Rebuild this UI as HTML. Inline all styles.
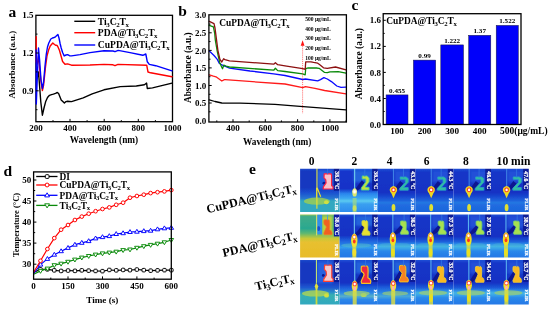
<!DOCTYPE html><html><head><meta charset="utf-8"><style>html,body{margin:0;padding:0;background:#fff;width:550px;height:309px;overflow:hidden}svg{display:block;will-change:transform}text{font-family:"Liberation Serif",serif;font-weight:bold}</style></head><body>
<svg width="550" height="309" viewBox="0 0 550 309">
<defs><filter id="soft" x="-5%" y="-5%" width="110%" height="110%"><feGaussianBlur stdDeviation="0.75"/></filter><filter id="soft2" x="-20%" y="-20%" width="140%" height="140%"><feGaussianBlur stdDeviation="0.9"/></filter></defs>
<text x="8.6" y="16.6" font-size="15.5" text-anchor="start" fill="#000" >a</text>
<text x="178.2" y="16.2" font-size="15.5" text-anchor="start" fill="#000" >b</text>
<text x="351.6" y="10.2" font-size="15.5" text-anchor="start" fill="#000" >c</text>
<text x="3.6" y="175.6" font-size="15.5" text-anchor="start" fill="#000" >d</text>
<text x="249" y="174" font-size="15.5" text-anchor="start" fill="#000" >e</text>
<rect x="35.9" y="15.3" width="136.6" height="106.4" fill="none" stroke="#000" stroke-width="1.3"/>
<path d="M37.2,78.0 L38.5,72.0 L39.5,85.0 L40.8,102.0 L42.4,115.2 L44.0,108.0 L45.6,101.8 L47.5,97.5 L49.5,95.3 L51.5,94.6 L53.4,94.1 L55.5,93.3 L57.3,92.5 L58.6,93.5 L61.2,99.9 L64.4,103.1 L66.0,101.6 L67.6,101.2 L71.5,101.6 L83.2,97.9 L92.2,93.8 L104.0,89.8 L120.2,86.6 L136.3,86.0 L144.4,84.7 L146.6,83.1 L147.3,88.5 L152.5,87.9 L172.0,83.1" fill="none" stroke="#000" stroke-width="1.4" stroke-linejoin="round" stroke-linecap="round" />
<path d="M36.2,36.6 L36.3,62.0 L37.3,64.0 L38.5,56.0 L40.0,72.0 L41.3,84.0 L42.4,90.6 L43.6,85.0 L45.5,67.0 L47.0,56.0 L48.6,50.0 L50.2,46.0 L52.8,43.0 L54.5,44.5 L55.8,45.3 L57.2,45.5 L57.9,46.8 L59.5,50.5 L61.2,56.5 L62.6,61.5 L65.0,64.3 L67.6,63.9 L71.5,65.2 L90.0,65.0 L104.0,64.4 L113.0,64.8 L115.0,65.7 L118.0,64.4 L146.7,65.2 L148.0,72.0 L150.6,72.8 L172.0,76.7" fill="none" stroke="#ff0000" stroke-width="1.4" stroke-linejoin="round" stroke-linecap="round" />
<path d="M36.2,50.0 L36.3,104.0 L37.2,80.0 L38.5,48.0 L39.6,60.0 L41.0,80.0 L42.4,88.5 L43.6,82.0 L45.0,66.0 L46.3,54.0 L47.5,47.0 L48.8,43.0 L50.8,39.0 L52.5,38.0 L54.0,37.5 L55.5,36.8 L56.5,35.8 L57.9,34.5 L59.0,38.0 L60.2,44.0 L61.2,48.0 L62.6,52.5 L64.2,55.9 L66.0,55.0 L67.6,54.6 L69.5,55.7 L71.5,55.9 L80.0,54.6 L90.0,52.6 L104.0,50.7 L113.0,51.0 L115.0,51.7 L118.2,50.4 L130.0,52.6 L142.8,55.3 L145.8,54.0 L147.3,61.8 L149.3,64.4 L155.7,65.7 L165.0,68.6 L172.0,70.9" fill="none" stroke="#0000ff" stroke-width="1.4" stroke-linejoin="round" stroke-linecap="round" />
<line x1="70.0" y1="121.7" x2="70.0" y2="118.9" stroke="#000" stroke-width="1"/>
<line x1="104.2" y1="121.7" x2="104.2" y2="118.9" stroke="#000" stroke-width="1"/>
<line x1="138.3" y1="121.7" x2="138.3" y2="118.9" stroke="#000" stroke-width="1"/>
<line x1="53.0" y1="121.7" x2="53.0" y2="120.10000000000001" stroke="#000" stroke-width="1"/>
<line x1="87.1" y1="121.7" x2="87.1" y2="120.10000000000001" stroke="#000" stroke-width="1"/>
<line x1="121.3" y1="121.7" x2="121.3" y2="120.10000000000001" stroke="#000" stroke-width="1"/>
<line x1="155.4" y1="121.7" x2="155.4" y2="120.10000000000001" stroke="#000" stroke-width="1"/>
<line x1="35.9" y1="53.0" x2="38.699999999999996" y2="53.0" stroke="#000" stroke-width="1"/>
<line x1="35.9" y1="90.8" x2="38.699999999999996" y2="90.8" stroke="#000" stroke-width="1"/>
<line x1="35.9" y1="34.1" x2="37.5" y2="34.1" stroke="#000" stroke-width="1"/>
<line x1="35.9" y1="71.9" x2="37.5" y2="71.9" stroke="#000" stroke-width="1"/>
<line x1="35.9" y1="109.7" x2="37.5" y2="109.7" stroke="#000" stroke-width="1"/>
<text x="33.6" y="18.300000000000004" font-size="9" text-anchor="end" fill="#000" >1.5</text>
<text x="33.6" y="56.10000000000001" font-size="9" text-anchor="end" fill="#000" >1.2</text>
<text x="33.6" y="93.89999999999999" font-size="9" text-anchor="end" fill="#000" >0.9</text>
<text x="35.9" y="130.8" font-size="9" text-anchor="middle" fill="#000" >200</text>
<text x="70.05" y="130.8" font-size="9" text-anchor="middle" fill="#000" >400</text>
<text x="104.19999999999999" y="130.8" font-size="9" text-anchor="middle" fill="#000" >600</text>
<text x="138.35" y="130.8" font-size="9" text-anchor="middle" fill="#000" >800</text>
<text x="172.5" y="130.8" font-size="9" text-anchor="middle" fill="#000" >1000</text>
<text x="104" y="143.3" font-size="9.3" text-anchor="middle" fill="#000" >Wavelength (nm)</text>
<text transform="translate(15.2,64.6) rotate(-90)" font-size="8.95" text-anchor="middle">Absorbance (a.u.)</text>
<line x1="74.3" y1="21.3" x2="95.2" y2="21.3" stroke="#000" stroke-width="1.4"/>
<line x1="74.3" y1="32.7" x2="95.2" y2="32.7" stroke="#ff0000" stroke-width="1.4"/>
<line x1="74.3" y1="45.0" x2="95.2" y2="45.0" stroke="#0000ff" stroke-width="1.4"/>
<text x="97.8" y="24.9" font-size="9.6" text-anchor="start" ><tspan>Ti</tspan><tspan font-size="6.91" dx="-0.43" dy="1.92">3</tspan><tspan dx="-0.10" dy="-1.92">C</tspan><tspan font-size="6.91" dx="-0.43" dy="1.92">2</tspan><tspan dx="-0.10" dy="-1.92">T</tspan><tspan font-size="6.91" dx="-0.43" dy="1.92">x</tspan></text>
<text x="97.8" y="36.2" font-size="9.6" text-anchor="start" ><tspan>PDA@</tspan><tspan>Ti</tspan><tspan font-size="6.91" dx="-0.43" dy="1.92">3</tspan><tspan dx="-0.10" dy="-1.92">C</tspan><tspan font-size="6.91" dx="-0.43" dy="1.92">2</tspan><tspan dx="-0.10" dy="-1.92">T</tspan><tspan font-size="6.91" dx="-0.43" dy="1.92">x</tspan></text>
<text x="97.8" y="48.0" font-size="9.6" text-anchor="start" ><tspan>CuPDA@</tspan><tspan>Ti</tspan><tspan font-size="6.91" dx="-0.43" dy="1.92">3</tspan><tspan dx="-0.10" dy="-1.92">C</tspan><tspan font-size="6.91" dx="-0.43" dy="1.92">2</tspan><tspan dx="-0.10" dy="-1.92">T</tspan><tspan font-size="6.91" dx="-0.43" dy="1.92">x</tspan></text>
<path d="M209.3,99.8 L215.0,101.5 L221.8,103.0 L240.0,103.2 L275.0,104.3 L300.0,106.3 L346.0,109.9" fill="none" stroke="#000" stroke-width="1.3" stroke-linejoin="round" stroke-linecap="round" />
<path d="M209.3,74.9 L213.4,76.2 L216.0,76.8 L221.8,81.0 L224.4,79.7 L225.0,79.7 L285.0,84.0 L302.7,87.7 L305.5,86.6 L315.0,88.4 L324.6,90.5 L346.0,93.9" fill="none" stroke="#ff1a1a" stroke-width="1.3" stroke-linejoin="round" stroke-linecap="round" />
<path d="M209.3,51.0 L214.0,55.5 L217.3,59.4 L219.2,63.3 L222.5,65.2 L229.5,68.1 L250.0,71.0 L273.7,73.8 L285.0,75.5 L302.7,79.5 L305.5,79.0 L317.7,80.8 L320.5,79.6 L323.9,77.6 L327.3,79.0 L331.4,81.6 L336.8,86.0 L341.0,87.4 L346.0,87.1" fill="none" stroke="#0a0aff" stroke-width="1.3" stroke-linejoin="round" stroke-linecap="round" />
<path d="M209.3,25.3 L213.4,26.8 L214.7,33.3 L215.3,40.0 L217.3,51.6 L219.9,63.3 L222.5,68.7 L223.8,65.2 L227.0,66.5 L229.5,67.0 L273.7,70.2 L275.4,68.3 L277.7,70.6 L285.0,71.5 L302.7,73.9 L305.2,74.8 L305.7,68.7 L308.2,67.9 L316.4,68.0 L319.1,68.3 L324.6,72.4 L327.3,72.6 L330.0,71.8 L338.2,71.6 L346.0,73.2" fill="none" stroke="#0a8a0a" stroke-width="1.3" stroke-linejoin="round" stroke-linecap="round" />
<path d="M209.3,21.4 L214.0,23.6 L215.0,28.0 L216.0,35.9 L217.9,50.3 L219.9,59.4 L221.8,62.0 L223.6,58.8 L225.0,59.6 L229.5,60.8 L273.7,64.2 L275.4,62.7 L277.7,64.7 L285.0,65.9 L302.7,68.6 L305.2,69.3 L305.7,61.9 L310.9,61.8 L313.6,62.4 L317.7,63.2 L319.5,64.5 L323.5,67.8 L327.3,68.4 L335.5,67.0 L346.0,69.8" fill="none" stroke="#8c1010" stroke-width="1.3" stroke-linejoin="round" stroke-linecap="round" />
<line x1="302.6" y1="44" x2="302.6" y2="113.5" stroke="#ff2020" stroke-width="0.6" stroke-dasharray="1.2,0.9"/>
<path d="M302.6,40.2 L300.7,45.8 L304.5,45.8 Z" fill="#ff1010"/>
<rect x="208.9" y="14.8" width="137.49999999999997" height="107.2" fill="none" stroke="#000" stroke-width="1.3"/>
<line x1="233.0" y1="122.0" x2="233.0" y2="119.2" stroke="#000" stroke-width="1"/>
<line x1="265.3" y1="122.0" x2="265.3" y2="119.2" stroke="#000" stroke-width="1"/>
<line x1="297.6" y1="122.0" x2="297.6" y2="119.2" stroke="#000" stroke-width="1"/>
<line x1="329.9" y1="122.0" x2="329.9" y2="119.2" stroke="#000" stroke-width="1"/>
<line x1="216.8" y1="122.0" x2="216.8" y2="120.4" stroke="#000" stroke-width="1"/>
<line x1="249.2" y1="122.0" x2="249.2" y2="120.4" stroke="#000" stroke-width="1"/>
<line x1="281.4" y1="122.0" x2="281.4" y2="120.4" stroke="#000" stroke-width="1"/>
<line x1="313.8" y1="122.0" x2="313.8" y2="120.4" stroke="#000" stroke-width="1"/>
<line x1="346.0" y1="122.0" x2="346.0" y2="120.4" stroke="#000" stroke-width="1"/>
<line x1="208.9" y1="103.0" x2="211.70000000000002" y2="103.0" stroke="#000" stroke-width="1"/>
<line x1="208.9" y1="85.5" x2="211.70000000000002" y2="85.5" stroke="#000" stroke-width="1"/>
<line x1="208.9" y1="67.9" x2="211.70000000000002" y2="67.9" stroke="#000" stroke-width="1"/>
<line x1="208.9" y1="50.4" x2="211.70000000000002" y2="50.4" stroke="#000" stroke-width="1"/>
<line x1="208.9" y1="32.8" x2="211.70000000000002" y2="32.8" stroke="#000" stroke-width="1"/>
<line x1="208.9" y1="111.8" x2="210.5" y2="111.8" stroke="#000" stroke-width="1"/>
<line x1="208.9" y1="94.3" x2="210.5" y2="94.3" stroke="#000" stroke-width="1"/>
<line x1="208.9" y1="76.7" x2="210.5" y2="76.7" stroke="#000" stroke-width="1"/>
<line x1="208.9" y1="59.2" x2="210.5" y2="59.2" stroke="#000" stroke-width="1"/>
<line x1="208.9" y1="41.6" x2="210.5" y2="41.6" stroke="#000" stroke-width="1"/>
<line x1="208.9" y1="24.1" x2="210.5" y2="24.1" stroke="#000" stroke-width="1"/>
<text x="206.2" y="123.69999999999999" font-size="9" text-anchor="end" fill="#000" >0.0</text>
<text x="206.2" y="106.14999999999999" font-size="9" text-anchor="end" fill="#000" >0.5</text>
<text x="206.2" y="88.6" font-size="9" text-anchor="end" fill="#000" >1.0</text>
<text x="206.2" y="71.04999999999998" font-size="9" text-anchor="end" fill="#000" >1.5</text>
<text x="206.2" y="53.49999999999999" font-size="9" text-anchor="end" fill="#000" >2.0</text>
<text x="206.2" y="35.949999999999996" font-size="9" text-anchor="end" fill="#000" >2.5</text>
<text x="206.2" y="18.4" font-size="9" text-anchor="end" fill="#000" >3.0</text>
<text x="233.0" y="130.8" font-size="9" text-anchor="middle" fill="#000" >400</text>
<text x="265.3" y="130.8" font-size="9" text-anchor="middle" fill="#000" >600</text>
<text x="297.6" y="130.8" font-size="9" text-anchor="middle" fill="#000" >800</text>
<text x="329.9" y="130.8" font-size="9" text-anchor="middle" fill="#000" >1000</text>
<text x="277.2" y="145.2" font-size="9.3" text-anchor="middle" fill="#000" >Wavelength (nm)</text>
<text transform="translate(191.2,67.7) rotate(-90)" font-size="9.34" text-anchor="middle">Absorbance (a.u.)</text>
<text x="219.2" y="25.8" font-size="9.4" text-anchor="start" ><tspan>CuPDA@</tspan><tspan>Ti</tspan><tspan font-size="6.77" dx="-0.42" dy="1.88">3</tspan><tspan dx="-0.09" dy="-1.88">C</tspan><tspan font-size="6.77" dx="-0.42" dy="1.88">2</tspan><tspan dx="-0.09" dy="-1.88">T</tspan><tspan font-size="6.77" dx="-0.42" dy="1.88">x</tspan></text>
<text x="305.2" y="21.2" font-size="5.55">500 μg/mL</text>
<text x="305.2" y="30.8" font-size="5.55">400 μg/mL</text>
<text x="305.2" y="40.4" font-size="5.55">300 μg/mL</text>
<text x="305.2" y="50.0" font-size="5.55">200 μg/mL</text>
<text x="305.2" y="59.6" font-size="5.55">100 μg/mL</text>
<rect x="386.1" y="94.9" width="21.9" height="29.6" fill="#0000fa" stroke="#1a1a40" stroke-width="0.5"/>
<text x="397.05" y="92.87950000000001" font-size="7.1" text-anchor="middle" fill="#000" >0.455</text>
<rect x="413.4" y="60.1" width="22.3" height="64.4" fill="#0000fa" stroke="#1a1a40" stroke-width="0.5"/>
<text x="424.54999999999995" y="58.051" font-size="7.1" text-anchor="middle" fill="#000" >0.99</text>
<rect x="440.8" y="44.9" width="22.7" height="79.6" fill="#0000fa" stroke="#1a1a40" stroke-width="0.5"/>
<text x="452.15" y="42.947800000000015" font-size="7.1" text-anchor="middle" fill="#000" >1.222</text>
<rect x="468.7" y="35.3" width="22.1" height="89.2" fill="#0000fa" stroke="#1a1a40" stroke-width="0.5"/>
<text x="479.75" y="33.313" font-size="7.1" text-anchor="middle" fill="#000" >1.37</text>
<rect x="496.2" y="25.4" width="22.1" height="99.1" fill="#0000fa" stroke="#1a1a40" stroke-width="0.5"/>
<text x="507.25" y="23.417800000000014" font-size="7.1" text-anchor="middle" fill="#000" >1.522</text>
<rect x="383.2" y="13.7" width="137.8" height="110.8" fill="none" stroke="#000" stroke-width="1.3"/>
<line x1="383.2" y1="98.5" x2="385.8" y2="98.5" stroke="#000" stroke-width="1"/>
<line x1="383.2" y1="72.4" x2="385.8" y2="72.4" stroke="#000" stroke-width="1"/>
<line x1="383.2" y1="46.4" x2="385.8" y2="46.4" stroke="#000" stroke-width="1"/>
<line x1="383.2" y1="20.3" x2="385.8" y2="20.3" stroke="#000" stroke-width="1"/>
<line x1="383.2" y1="111.5" x2="384.7" y2="111.5" stroke="#000" stroke-width="1"/>
<line x1="383.2" y1="85.4" x2="384.7" y2="85.4" stroke="#000" stroke-width="1"/>
<line x1="383.2" y1="59.4" x2="384.7" y2="59.4" stroke="#000" stroke-width="1"/>
<line x1="383.2" y1="33.4" x2="384.7" y2="33.4" stroke="#000" stroke-width="1"/>
<text x="381.0" y="127.6" font-size="9" text-anchor="end" fill="#000" >0.0</text>
<text x="381.0" y="101.56" font-size="9" text-anchor="end" fill="#000" >0.4</text>
<text x="381.0" y="75.52" font-size="9" text-anchor="end" fill="#000" >0.8</text>
<text x="381.0" y="49.48000000000001" font-size="9" text-anchor="end" fill="#000" >1.2</text>
<text x="381.0" y="23.440000000000005" font-size="9" text-anchor="end" fill="#000" >1.6</text>
<text x="397.05" y="133.8" font-size="9.2" text-anchor="middle" fill="#000" >100</text>
<text x="424.54999999999995" y="133.8" font-size="9.2" text-anchor="middle" fill="#000" >200</text>
<text x="452.15" y="133.8" font-size="9.2" text-anchor="middle" fill="#000" >300</text>
<text x="479.75" y="133.8" font-size="9.2" text-anchor="middle" fill="#000" >400</text>
<text x="500.0" y="133.8" font-size="9.5" text-anchor="start" fill="#000" >500(μg/mL)</text>
<text transform="translate(362.2,63.6) rotate(-90)" font-size="9.4" text-anchor="middle">Absorbance (a.u.)</text>
<text x="386.3" y="23.9" font-size="9.4" text-anchor="start" ><tspan>CuPDA@</tspan><tspan>Ti</tspan><tspan font-size="6.77" dx="-0.42" dy="1.88">3</tspan><tspan dx="-0.09" dy="-1.88">C</tspan><tspan font-size="6.77" dx="-0.42" dy="1.88">2</tspan><tspan dx="-0.09" dy="-1.88">T</tspan><tspan font-size="6.77" dx="-0.42" dy="1.88">x</tspan></text>
<path d="M33.6,272.5 L40.5,269.3 L47.4,269.4 L54.3,270.3 L61.1,271.0 L68.0,270.5 L74.9,270.8 L81.8,270.4 L88.7,270.6 L95.6,271.0 L102.5,271.2 L109.3,270.0 L116.2,270.3 L123.1,270.0 L130.0,270.2 L136.9,269.5 L143.8,270.2 L150.6,270.6 L157.5,270.4 L164.4,270.1 L171.3,270.2" fill="none" stroke="#000" stroke-width="1.2" stroke-linejoin="round" stroke-linecap="round" />
<rect x="38.7" y="267.6" width="3.5" height="3.5" rx="0.9" fill="#fff" stroke="#000" stroke-width="1.0"/>
<rect x="45.6" y="267.6" width="3.5" height="3.5" rx="0.9" fill="#fff" stroke="#000" stroke-width="1.0"/>
<rect x="52.5" y="268.6" width="3.5" height="3.5" rx="0.9" fill="#fff" stroke="#000" stroke-width="1.0"/>
<rect x="59.4" y="269.2" width="3.5" height="3.5" rx="0.9" fill="#fff" stroke="#000" stroke-width="1.0"/>
<rect x="66.3" y="268.8" width="3.5" height="3.5" rx="0.9" fill="#fff" stroke="#000" stroke-width="1.0"/>
<rect x="73.2" y="269.1" width="3.5" height="3.5" rx="0.9" fill="#fff" stroke="#000" stroke-width="1.0"/>
<rect x="80.0" y="268.6" width="3.5" height="3.5" rx="0.9" fill="#fff" stroke="#000" stroke-width="1.0"/>
<rect x="86.9" y="268.9" width="3.5" height="3.5" rx="0.9" fill="#fff" stroke="#000" stroke-width="1.0"/>
<rect x="93.8" y="269.2" width="3.5" height="3.5" rx="0.9" fill="#fff" stroke="#000" stroke-width="1.0"/>
<rect x="100.7" y="269.4" width="3.5" height="3.5" rx="0.9" fill="#fff" stroke="#000" stroke-width="1.0"/>
<rect x="107.6" y="268.2" width="3.5" height="3.5" rx="0.9" fill="#fff" stroke="#000" stroke-width="1.0"/>
<rect x="114.5" y="268.6" width="3.5" height="3.5" rx="0.9" fill="#fff" stroke="#000" stroke-width="1.0"/>
<rect x="121.4" y="268.2" width="3.5" height="3.5" rx="0.9" fill="#fff" stroke="#000" stroke-width="1.0"/>
<rect x="128.2" y="268.4" width="3.5" height="3.5" rx="0.9" fill="#fff" stroke="#000" stroke-width="1.0"/>
<rect x="135.1" y="267.8" width="3.5" height="3.5" rx="0.9" fill="#fff" stroke="#000" stroke-width="1.0"/>
<rect x="142.0" y="268.4" width="3.5" height="3.5" rx="0.9" fill="#fff" stroke="#000" stroke-width="1.0"/>
<rect x="148.9" y="268.9" width="3.5" height="3.5" rx="0.9" fill="#fff" stroke="#000" stroke-width="1.0"/>
<rect x="155.8" y="268.6" width="3.5" height="3.5" rx="0.9" fill="#fff" stroke="#000" stroke-width="1.0"/>
<rect x="162.7" y="268.4" width="3.5" height="3.5" rx="0.9" fill="#fff" stroke="#000" stroke-width="1.0"/>
<rect x="169.6" y="268.4" width="3.5" height="3.5" rx="0.9" fill="#fff" stroke="#000" stroke-width="1.0"/>
<path d="M33.6,274.3 L40.5,270.9 L47.4,268.6 L54.3,265.2 L61.1,263.7 L68.0,261.8 L74.9,259.6 L81.8,257.6 L88.7,256.0 L95.6,254.6 L102.5,253.4 L109.3,252.6 L116.2,251.7 L123.1,250.1 L130.0,249.5 L136.9,247.8 L143.8,246.2 L150.6,244.9 L157.5,243.7 L164.4,242.3 L171.3,240.0" fill="none" stroke="#0a8a0a" stroke-width="1.2" stroke-linejoin="round" stroke-linecap="round" />
<path d="M40.5,273.3 L42.8,269.4 L38.2,269.4 Z" fill="#fff" stroke="#0a8a0a" stroke-width="0.95"/>
<path d="M47.4,271.0 L49.7,267.1 L45.1,267.1 Z" fill="#fff" stroke="#0a8a0a" stroke-width="0.95"/>
<path d="M54.3,267.6 L56.6,263.7 L52.0,263.7 Z" fill="#fff" stroke="#0a8a0a" stroke-width="0.95"/>
<path d="M61.1,266.1 L63.4,262.2 L58.8,262.2 Z" fill="#fff" stroke="#0a8a0a" stroke-width="0.95"/>
<path d="M68.0,264.2 L70.3,260.3 L65.7,260.3 Z" fill="#fff" stroke="#0a8a0a" stroke-width="0.95"/>
<path d="M74.9,262.0 L77.2,258.1 L72.6,258.1 Z" fill="#fff" stroke="#0a8a0a" stroke-width="0.95"/>
<path d="M81.8,260.0 L84.1,256.1 L79.5,256.1 Z" fill="#fff" stroke="#0a8a0a" stroke-width="0.95"/>
<path d="M88.7,258.4 L91.0,254.5 L86.4,254.5 Z" fill="#fff" stroke="#0a8a0a" stroke-width="0.95"/>
<path d="M95.6,257.0 L97.9,253.1 L93.3,253.1 Z" fill="#fff" stroke="#0a8a0a" stroke-width="0.95"/>
<path d="M102.5,255.8 L104.8,251.9 L100.2,251.9 Z" fill="#fff" stroke="#0a8a0a" stroke-width="0.95"/>
<path d="M109.3,255.0 L111.6,251.1 L107.0,251.1 Z" fill="#fff" stroke="#0a8a0a" stroke-width="0.95"/>
<path d="M116.2,254.1 L118.5,250.2 L113.9,250.2 Z" fill="#fff" stroke="#0a8a0a" stroke-width="0.95"/>
<path d="M123.1,252.5 L125.4,248.6 L120.8,248.6 Z" fill="#fff" stroke="#0a8a0a" stroke-width="0.95"/>
<path d="M130.0,251.9 L132.3,248.0 L127.7,248.0 Z" fill="#fff" stroke="#0a8a0a" stroke-width="0.95"/>
<path d="M136.9,250.2 L139.2,246.3 L134.6,246.3 Z" fill="#fff" stroke="#0a8a0a" stroke-width="0.95"/>
<path d="M143.8,248.6 L146.1,244.7 L141.5,244.7 Z" fill="#fff" stroke="#0a8a0a" stroke-width="0.95"/>
<path d="M150.6,247.3 L152.9,243.4 L148.3,243.4 Z" fill="#fff" stroke="#0a8a0a" stroke-width="0.95"/>
<path d="M157.5,246.1 L159.8,242.2 L155.2,242.2 Z" fill="#fff" stroke="#0a8a0a" stroke-width="0.95"/>
<path d="M164.4,244.7 L166.7,240.8 L162.1,240.8 Z" fill="#fff" stroke="#0a8a0a" stroke-width="0.95"/>
<path d="M171.3,242.4 L173.6,238.5 L169.0,238.5 Z" fill="#fff" stroke="#0a8a0a" stroke-width="0.95"/>
<path d="M33.6,273.5 L40.5,264.6 L47.4,258.9 L54.3,254.7 L61.1,251.2 L68.0,247.9 L74.9,244.7 L81.8,242.8 L88.7,241.1 L95.6,238.4 L102.5,237.1 L109.3,236.1 L116.2,234.0 L123.1,233.2 L130.0,232.0 L136.9,231.7 L143.8,231.1 L150.6,230.7 L157.5,229.3 L164.4,228.3 L171.3,227.8" fill="none" stroke="#0000ff" stroke-width="1.2" stroke-linejoin="round" stroke-linecap="round" />
<path d="M40.5,262.2 L42.8,266.1 L38.2,266.1 Z" fill="#fff" stroke="#0000ff" stroke-width="0.95"/>
<path d="M47.4,256.5 L49.7,260.4 L45.1,260.4 Z" fill="#fff" stroke="#0000ff" stroke-width="0.95"/>
<path d="M54.3,252.3 L56.6,256.2 L52.0,256.2 Z" fill="#fff" stroke="#0000ff" stroke-width="0.95"/>
<path d="M61.1,248.8 L63.4,252.7 L58.8,252.7 Z" fill="#fff" stroke="#0000ff" stroke-width="0.95"/>
<path d="M68.0,245.5 L70.3,249.4 L65.7,249.4 Z" fill="#fff" stroke="#0000ff" stroke-width="0.95"/>
<path d="M74.9,242.3 L77.2,246.2 L72.6,246.2 Z" fill="#fff" stroke="#0000ff" stroke-width="0.95"/>
<path d="M81.8,240.4 L84.1,244.3 L79.5,244.3 Z" fill="#fff" stroke="#0000ff" stroke-width="0.95"/>
<path d="M88.7,238.7 L91.0,242.6 L86.4,242.6 Z" fill="#fff" stroke="#0000ff" stroke-width="0.95"/>
<path d="M95.6,236.0 L97.9,239.9 L93.3,239.9 Z" fill="#fff" stroke="#0000ff" stroke-width="0.95"/>
<path d="M102.5,234.7 L104.8,238.6 L100.2,238.6 Z" fill="#fff" stroke="#0000ff" stroke-width="0.95"/>
<path d="M109.3,233.7 L111.6,237.6 L107.0,237.6 Z" fill="#fff" stroke="#0000ff" stroke-width="0.95"/>
<path d="M116.2,231.6 L118.5,235.5 L113.9,235.5 Z" fill="#fff" stroke="#0000ff" stroke-width="0.95"/>
<path d="M123.1,230.8 L125.4,234.7 L120.8,234.7 Z" fill="#fff" stroke="#0000ff" stroke-width="0.95"/>
<path d="M130.0,229.6 L132.3,233.5 L127.7,233.5 Z" fill="#fff" stroke="#0000ff" stroke-width="0.95"/>
<path d="M136.9,229.3 L139.2,233.2 L134.6,233.2 Z" fill="#fff" stroke="#0000ff" stroke-width="0.95"/>
<path d="M143.8,228.7 L146.1,232.6 L141.5,232.6 Z" fill="#fff" stroke="#0000ff" stroke-width="0.95"/>
<path d="M150.6,228.3 L152.9,232.2 L148.3,232.2 Z" fill="#fff" stroke="#0000ff" stroke-width="0.95"/>
<path d="M157.5,226.9 L159.8,230.8 L155.2,230.8 Z" fill="#fff" stroke="#0000ff" stroke-width="0.95"/>
<path d="M164.4,225.9 L166.7,229.8 L162.1,229.8 Z" fill="#fff" stroke="#0000ff" stroke-width="0.95"/>
<path d="M171.3,225.4 L173.6,229.3 L169.0,229.3 Z" fill="#fff" stroke="#0000ff" stroke-width="0.95"/>
<path d="M33.6,272.2 L40.5,260.8 L47.4,249.0 L54.3,238.1 L61.1,229.7 L68.0,225.0 L74.9,220.0 L81.8,216.6 L88.7,213.7 L95.6,211.2 L102.5,209.0 L109.3,207.4 L116.2,204.8 L123.1,202.7 L130.0,197.7 L136.9,196.0 L143.8,194.7 L150.6,193.1 L157.5,192.2 L164.4,191.4 L171.3,190.1" fill="none" stroke="#ff0000" stroke-width="1.2" stroke-linejoin="round" stroke-linecap="round" />
<circle cx="40.5" cy="260.8" r="1.85" fill="#fff" stroke="#ff0000" stroke-width="1.0"/>
<circle cx="47.4" cy="249.0" r="1.85" fill="#fff" stroke="#ff0000" stroke-width="1.0"/>
<circle cx="54.3" cy="238.1" r="1.85" fill="#fff" stroke="#ff0000" stroke-width="1.0"/>
<circle cx="61.1" cy="229.7" r="1.85" fill="#fff" stroke="#ff0000" stroke-width="1.0"/>
<circle cx="68.0" cy="225.0" r="1.85" fill="#fff" stroke="#ff0000" stroke-width="1.0"/>
<circle cx="74.9" cy="220.0" r="1.85" fill="#fff" stroke="#ff0000" stroke-width="1.0"/>
<circle cx="81.8" cy="216.6" r="1.85" fill="#fff" stroke="#ff0000" stroke-width="1.0"/>
<circle cx="88.7" cy="213.7" r="1.85" fill="#fff" stroke="#ff0000" stroke-width="1.0"/>
<circle cx="95.6" cy="211.2" r="1.85" fill="#fff" stroke="#ff0000" stroke-width="1.0"/>
<circle cx="102.5" cy="209.0" r="1.85" fill="#fff" stroke="#ff0000" stroke-width="1.0"/>
<circle cx="109.3" cy="207.4" r="1.85" fill="#fff" stroke="#ff0000" stroke-width="1.0"/>
<circle cx="116.2" cy="204.8" r="1.85" fill="#fff" stroke="#ff0000" stroke-width="1.0"/>
<circle cx="123.1" cy="202.7" r="1.85" fill="#fff" stroke="#ff0000" stroke-width="1.0"/>
<circle cx="130.0" cy="197.7" r="1.85" fill="#fff" stroke="#ff0000" stroke-width="1.0"/>
<circle cx="136.9" cy="196.0" r="1.85" fill="#fff" stroke="#ff0000" stroke-width="1.0"/>
<circle cx="143.8" cy="194.7" r="1.85" fill="#fff" stroke="#ff0000" stroke-width="1.0"/>
<circle cx="150.6" cy="193.1" r="1.85" fill="#fff" stroke="#ff0000" stroke-width="1.0"/>
<circle cx="157.5" cy="192.2" r="1.85" fill="#fff" stroke="#ff0000" stroke-width="1.0"/>
<circle cx="164.4" cy="191.4" r="1.85" fill="#fff" stroke="#ff0000" stroke-width="1.0"/>
<circle cx="171.3" cy="190.1" r="1.85" fill="#fff" stroke="#ff0000" stroke-width="1.0"/>
<rect x="33.6" y="171.9" width="137.70000000000002" height="107.29999999999998" fill="none" stroke="#000" stroke-width="1.3"/>
<line x1="68.0" y1="279.2" x2="68.0" y2="276.4" stroke="#000" stroke-width="1"/>
<line x1="102.5" y1="279.2" x2="102.5" y2="276.4" stroke="#000" stroke-width="1"/>
<line x1="136.9" y1="279.2" x2="136.9" y2="276.4" stroke="#000" stroke-width="1"/>
<line x1="50.8" y1="279.2" x2="50.8" y2="277.59999999999997" stroke="#000" stroke-width="1"/>
<line x1="85.2" y1="279.2" x2="85.2" y2="277.59999999999997" stroke="#000" stroke-width="1"/>
<line x1="119.7" y1="279.2" x2="119.7" y2="277.59999999999997" stroke="#000" stroke-width="1"/>
<line x1="154.1" y1="279.2" x2="154.1" y2="277.59999999999997" stroke="#000" stroke-width="1"/>
<line x1="33.6" y1="264.2" x2="36.4" y2="264.2" stroke="#000" stroke-width="1"/>
<line x1="33.6" y1="243.1" x2="36.4" y2="243.1" stroke="#000" stroke-width="1"/>
<line x1="33.6" y1="222.1" x2="36.4" y2="222.1" stroke="#000" stroke-width="1"/>
<line x1="33.6" y1="201.0" x2="36.4" y2="201.0" stroke="#000" stroke-width="1"/>
<line x1="33.6" y1="180.0" x2="36.4" y2="180.0" stroke="#000" stroke-width="1"/>
<line x1="33.6" y1="253.7" x2="35.2" y2="253.7" stroke="#000" stroke-width="1"/>
<line x1="33.6" y1="232.6" x2="35.2" y2="232.6" stroke="#000" stroke-width="1"/>
<line x1="33.6" y1="211.6" x2="35.2" y2="211.6" stroke="#000" stroke-width="1"/>
<line x1="33.6" y1="190.5" x2="35.2" y2="190.5" stroke="#000" stroke-width="1"/>
<text x="31.3" y="267.3" font-size="9" text-anchor="end" fill="#000" >30</text>
<text x="31.3" y="246.24999999999997" font-size="9" text-anchor="end" fill="#000" >35</text>
<text x="31.3" y="225.2" font-size="9" text-anchor="end" fill="#000" >40</text>
<text x="31.3" y="204.14999999999998" font-size="9" text-anchor="end" fill="#000" >45</text>
<text x="31.3" y="183.1" font-size="9" text-anchor="end" fill="#000" >50</text>
<text x="33.6" y="288.6" font-size="9" text-anchor="middle" fill="#000" >0</text>
<text x="68.025" y="288.6" font-size="9" text-anchor="middle" fill="#000" >150</text>
<text x="102.45000000000002" y="288.6" font-size="9" text-anchor="middle" fill="#000" >300</text>
<text x="136.875" y="288.6" font-size="9" text-anchor="middle" fill="#000" >450</text>
<text x="171.3" y="288.6" font-size="9" text-anchor="middle" fill="#000" >600</text>
<text x="102.3" y="303.2" font-size="9.2" text-anchor="middle" fill="#000" >Time (s)</text>
<text transform="translate(19.2,225) rotate(-90)" font-size="8.45" text-anchor="middle">Temperature (°C)</text>
<line x1="36.2" y1="176.5" x2="57.5" y2="176.5" stroke="#000" stroke-width="1.3"/>
<rect x="45.3" y="174.7" width="3.7" height="3.7" rx="0.9" fill="#fff" stroke="#000" stroke-width="1.0"/>
<text x="59.6" y="179.7" font-size="9.4" text-anchor="start" ><tspan>DI</tspan></text>
<line x1="36.2" y1="185.0" x2="57.5" y2="185.0" stroke="#ff0000" stroke-width="1.3"/>
<circle cx="47.1" cy="185.0" r="1.94" fill="#fff" stroke="#ff0000" stroke-width="1.0"/>
<text x="59.6" y="188.2" font-size="9.4" text-anchor="start" ><tspan>CuPDA@</tspan><tspan>Ti</tspan><tspan font-size="6.77" dx="-0.42" dy="1.88">3</tspan><tspan dx="-0.09" dy="-1.88">C</tspan><tspan font-size="6.77" dx="-0.42" dy="1.88">2</tspan><tspan dx="-0.09" dy="-1.88">T</tspan><tspan font-size="6.77" dx="-0.42" dy="1.88">x</tspan></text>
<line x1="36.2" y1="195.3" x2="57.5" y2="195.3" stroke="#0000ff" stroke-width="1.3"/>
<path d="M47.1,192.8 L49.5,196.9 L44.7,196.9 Z" fill="#fff" stroke="#0000ff" stroke-width="0.95"/>
<text x="59.6" y="198.5" font-size="9.4" text-anchor="start" ><tspan>PDA@</tspan><tspan>Ti</tspan><tspan font-size="6.77" dx="-0.42" dy="1.88">3</tspan><tspan dx="-0.09" dy="-1.88">C</tspan><tspan font-size="6.77" dx="-0.42" dy="1.88">2</tspan><tspan dx="-0.09" dy="-1.88">T</tspan><tspan font-size="6.77" dx="-0.42" dy="1.88">x</tspan></text>
<line x1="36.2" y1="205.4" x2="57.5" y2="205.4" stroke="#0a8a0a" stroke-width="1.3"/>
<path d="M47.1,207.9 L49.5,203.8 L44.7,203.8 Z" fill="#fff" stroke="#0a8a0a" stroke-width="0.95"/>
<text x="59.6" y="208.6" font-size="9.4" text-anchor="start" ><tspan>Ti</tspan><tspan font-size="6.77" dx="-0.42" dy="1.88">3</tspan><tspan dx="-0.09" dy="-1.88">C</tspan><tspan font-size="6.77" dx="-0.42" dy="1.88">2</tspan><tspan dx="-0.09" dy="-1.88">T</tspan><tspan font-size="6.77" dx="-0.42" dy="1.88">x</tspan></text>
<text x="311.6" y="164.9" font-size="11.5" text-anchor="middle" fill="#000" >0</text>
<text x="354.3" y="164.9" font-size="11.5" text-anchor="middle" fill="#000" >2</text>
<text x="389.6" y="164.9" font-size="11.5" text-anchor="middle" fill="#000" >4</text>
<text x="426.7" y="164.9" font-size="11.5" text-anchor="middle" fill="#000" >6</text>
<text x="465.9" y="164.9" font-size="11.5" text-anchor="middle" fill="#000" >8</text>
<text x="496.6" y="164.9" font-size="11.6" text-anchor="start" fill="#000" >10 min</text>
<text transform="translate(207.6,213.2) rotate(-13.5)" font-size="12.2"><tspan>CuPDA@</tspan><tspan>Ti</tspan><tspan font-size="8.78" dx="-0.55" dy="2.44">3</tspan><tspan dx="-0.12" dy="-2.44">C</tspan><tspan font-size="8.78" dx="-0.55" dy="2.44">2</tspan><tspan dx="-0.12" dy="-2.44">T</tspan><tspan font-size="8.78" dx="-0.55" dy="2.44">x</tspan></text>
<text transform="translate(223.6,257.0) rotate(-13.5)" font-size="12.2"><tspan>PDA@</tspan><tspan>Ti</tspan><tspan font-size="8.78" dx="-0.55" dy="2.44">3</tspan><tspan dx="-0.12" dy="-2.44">C</tspan><tspan font-size="8.78" dx="-0.55" dy="2.44">2</tspan><tspan dx="-0.12" dy="-2.44">T</tspan><tspan font-size="8.78" dx="-0.55" dy="2.44">x</tspan></text>
<text transform="translate(256.0,290.6) rotate(-13.5)" font-size="12.2"><tspan>Ti</tspan><tspan font-size="8.78" dx="-0.55" dy="2.44">3</tspan><tspan dx="-0.12" dy="-2.44">C</tspan><tspan font-size="8.78" dx="-0.55" dy="2.44">2</tspan><tspan dx="-0.12" dy="-2.44">T</tspan><tspan font-size="8.78" dx="-0.55" dy="2.44">x</tspan></text>
<clipPath id="clip1"><rect x="300.1" y="168.7" width="39.5" height="43.3"/></clipPath>
<linearGradient id="g2" gradientUnits="userSpaceOnUse" x1="0" y1="168.7" x2="0" y2="212.0"><stop offset="0.0" stop-color="#1c4acc"/><stop offset="0.0658" stop-color="#1538c0"/><stop offset="0.4388" stop-color="#1838c0"/><stop offset="0.5543" stop-color="#1a50d0"/><stop offset="0.688" stop-color="#2878d0"/><stop offset="0.7415" stop-color="#30a8c0"/><stop offset="1.0" stop-color="#30a8c0"/></linearGradient>
<g clip-path="url(#clip1)"><g filter="url(#soft)">
<rect x="298.1" y="166.7" width="43.5" height="47.3" fill="url(#g2)" />
<rect x="317.4" y="170.2" width="16.0" height="18.5" fill="#2860e0" filter="url(#soft2)"/>
<ellipse cx="316.9" cy="168.7" rx="13" ry="3.6" fill="#98cc58" opacity="0.85" transform="translate(0,32.5)"/>
<ellipse cx="316.9" cy="168.7" rx="2.4" ry="2.0" fill="#d0e040" transform="translate(9.5,33.5)"/>
<path d="M316.9,168.7 m-0.3,19 l0,10 m0.6,-10 l3.5,9 m-3.8,-9 l0,21" stroke="#e8e030" stroke-width="1.1" fill="none"/>
<ellipse cx="316.9" cy="168.7" rx="1.6" ry="1.4" fill="#0a1890" transform="translate(7.2,14.5)"/>
<rect x="316.4" y="166.7" width="1.1" height="22.0" fill="#e0e040"/>
<path d="M324.2,173.8 L331.2,173.8 L331.6,175.3 L331.6,185.7 L333.0,186.6 L333.0,189.0 L323.2,189.0 L323.4,186.9 L326.1,182.9 L325.7,179.6 L324.0,177.8 Z" fill="#f8c0c8" stroke="#ff2040" stroke-width="1.2" stroke-linejoin="round"/>
<line x1="327.6" y1="166.7" x2="327.6" y2="174.3" stroke="#3070e0" stroke-width="0.9"/>
<rect x="333.9" y="166.7" width="8.0" height="24.0" fill="#0a1c90" />
</g>
<text transform="translate(335.2,171.3) rotate(90)" font-size="5.7" fill="#fff" stroke="#fff" stroke-width="0.25">38.0 °C</text>
<text transform="translate(335.3,198.3) rotate(90)" font-size="5.0" fill="#fff" stroke="#fff" stroke-width="0.2">FLIR</text>
</g>
<clipPath id="clip3"><rect x="339.6" y="168.7" width="38.3" height="43.3"/></clipPath>
<linearGradient id="g4" gradientUnits="userSpaceOnUse" x1="0" y1="168.7" x2="0" y2="212.0"><stop offset="0.0" stop-color="#2a70e8"/><stop offset="0.0554" stop-color="#1636cc"/><stop offset="0.4619" stop-color="#1232c8"/><stop offset="0.5774" stop-color="#2a86ee"/><stop offset="0.683" stop-color="#3aa8f2"/><stop offset="0.7464" stop-color="#5ccaf0"/><stop offset="0.814" stop-color="#3aa0f0"/><stop offset="1.0" stop-color="#2e8cee"/></linearGradient>
<g clip-path="url(#clip3)"><g filter="url(#soft)">
<rect x="337.6" y="166.7" width="42.3" height="47.3" fill="url(#g4)" />
<rect x="353.6" y="170.2" width="19.3" height="12.0" fill="#2462dc" filter="url(#soft2)"/>
<path d="M354.9,189.4 L361.8,180.2 L364.8,183.0 L362.3,187.3 L357.1,190.8 Z" fill="#0a1890"/>
<rect x="354.1" y="166.7" width="1.1" height="22.3" fill="#70d0f0"/>
<rect x="352.6" y="198.0" width="4.0" height="23.0" fill="#a0d880" opacity="0.7"/>
<ellipse cx="354.6" cy="208.2" rx="1.9" ry="3.0" fill="#c8e060" />
<ellipse cx="354.6" cy="192.4" rx="2.3" ry="4.2" fill="#d8e870" />
<ellipse cx="354.6" cy="191.6" rx="2.2" ry="2.4" fill="#f8f0b0" />
<ellipse cx="354.6" cy="191.7" rx="1.2" ry="1.4" fill="#ffffff" />
<path d="M362.1,175.9 L367.2,175.9 L369.1,178.0 L369.1,181.9 L365.2,187.0 L369.1,187.3 L369.1,190.1 L361.3,190.1 L361.3,187.8 L365.8,181.9 L365.8,179.0 L362.1,179.0 Z" fill="#c0e040" stroke="#40c8a0" stroke-width="0.9" stroke-linejoin="round"/>
<line x1="364.8" y1="166.7" x2="364.8" y2="176.4" stroke="#3070e0" stroke-width="0.9"/>
<rect x="372.2" y="166.7" width="8.0" height="24.0" fill="#0b1c96" />
</g>
<text transform="translate(373.5,171.3) rotate(90)" font-size="5.7" fill="#fff" stroke="#fff" stroke-width="0.25">38.3 °C</text>
<text transform="translate(373.6,198.3) rotate(90)" font-size="5.0" fill="#fff" stroke="#fff" stroke-width="0.2">FLIR</text>
</g>
<clipPath id="clip5"><rect x="377.9" y="168.7" width="37.7" height="43.3"/></clipPath>
<linearGradient id="g6" gradientUnits="userSpaceOnUse" x1="0" y1="168.7" x2="0" y2="212.0"><stop offset="0.0" stop-color="#1e50d6"/><stop offset="0.0776" stop-color="#1636c8"/><stop offset="0.5543" stop-color="#1232c4"/><stop offset="0.6697" stop-color="#1a50d4"/><stop offset="0.7358" stop-color="#1e64dc"/><stop offset="0.7853" stop-color="#2478e2"/><stop offset="0.8349" stop-color="#206ce0"/><stop offset="1.0" stop-color="#1e66dc"/></linearGradient>
<g clip-path="url(#clip5)"><g filter="url(#soft)">
<rect x="375.9" y="166.7" width="41.7" height="47.3" fill="url(#g6)" />
<rect x="394.5" y="170.2" width="16.1" height="12.0" fill="#2050d8" filter="url(#soft2)"/>
<path d="M393.8,189.5 L400.2,180.9 L403.2,183.5 L400.7,187.5 L396.0,190.9 Z" fill="#0a1890"/>
<rect x="392.9" y="166.7" width="1.1" height="20.5" fill="#3c80e4"/>
<ellipse cx="393.5" cy="207.7" rx="1.9" ry="3.6" fill="#e0e030" />
<path d="M393.5,186.0 C398.0,186.7 398.0,191.2 395.7,193.2 L393.5,198.2 L391.3,193.2 C389.0,191.2 389.0,186.7 393.5,186.0 Z" fill="#f0d820"/>
<ellipse cx="393.5" cy="189.8" rx="2.2" ry="2.4" fill="#ff3020" />
<ellipse cx="393.5" cy="189.9" rx="1.2" ry="1.4" fill="#ffffff" />
<path d="M400.1,176.9 L406.1,176.9 L408.2,178.5 L408.2,182.2 L403.5,187.5 L408.2,187.5 L408.2,190.2 L399.7,190.2 L399.7,188.3 L405.3,182.5 L405.3,179.3 L400.1,179.3 Z" fill="#30c0a0" stroke="#28a0c8" stroke-width="0.8" stroke-linejoin="round"/>
<line x1="403.5" y1="166.7" x2="403.5" y2="177.4" stroke="#3070e0" stroke-width="0.9"/>
<rect x="409.9" y="166.7" width="8.0" height="24.0" fill="#0b1c96" />
</g>
<text transform="translate(411.2,171.3) rotate(90)" font-size="5.7" fill="#fff" stroke="#fff" stroke-width="0.25">43.1 °C</text>
<text transform="translate(411.3,198.3) rotate(90)" font-size="5.0" fill="#fff" stroke="#fff" stroke-width="0.2">FLIR</text>
</g>
<clipPath id="clip7"><rect x="415.6" y="168.7" width="37.9" height="43.3"/></clipPath>
<linearGradient id="g8" gradientUnits="userSpaceOnUse" x1="0" y1="168.7" x2="0" y2="212.0"><stop offset="0.0" stop-color="#1e50d6"/><stop offset="0.0776" stop-color="#1636c8"/><stop offset="0.5543" stop-color="#1232c4"/><stop offset="0.6697" stop-color="#1a50d4"/><stop offset="0.7358" stop-color="#1e64dc"/><stop offset="0.7853" stop-color="#2478e2"/><stop offset="0.8349" stop-color="#206ce0"/><stop offset="1.0" stop-color="#1e66dc"/></linearGradient>
<g clip-path="url(#clip7)"><g filter="url(#soft)">
<rect x="413.6" y="166.7" width="41.9" height="47.3" fill="url(#g8)" />
<rect x="432.2" y="170.2" width="16.3" height="12.0" fill="#2050d8" filter="url(#soft2)"/>
<path d="M431.5,189.5 L437.9,180.9 L440.9,183.5 L438.4,187.5 L433.7,190.9 Z" fill="#0a1890"/>
<rect x="430.7" y="166.7" width="1.1" height="20.5" fill="#3c80e4"/>
<ellipse cx="431.2" cy="207.7" rx="1.9" ry="3.6" fill="#e0e030" />
<path d="M431.2,186.0 C435.7,186.7 435.7,191.2 433.4,193.2 L431.2,198.2 L429.0,193.2 C426.7,191.2 426.7,186.7 431.2,186.0 Z" fill="#f0d820"/>
<ellipse cx="431.2" cy="189.8" rx="2.2" ry="2.4" fill="#ff3020" />
<ellipse cx="431.2" cy="189.9" rx="1.2" ry="1.4" fill="#ffffff" />
<path d="M437.8,176.9 L443.8,176.9 L445.9,178.5 L445.9,182.2 L441.2,187.5 L445.9,187.5 L445.9,190.2 L437.4,190.2 L437.4,188.3 L443.0,182.5 L443.0,179.3 L437.8,179.3 Z" fill="#30c0a0" stroke="#28a0c8" stroke-width="0.8" stroke-linejoin="round"/>
<line x1="441.2" y1="166.7" x2="441.2" y2="177.4" stroke="#3070e0" stroke-width="0.9"/>
<rect x="447.8" y="166.7" width="8.0" height="24.0" fill="#0b1c96" />
</g>
<text transform="translate(449.1,171.3) rotate(90)" font-size="5.7" fill="#fff" stroke="#fff" stroke-width="0.25">44.3 °C</text>
<text transform="translate(449.2,198.3) rotate(90)" font-size="5.0" fill="#fff" stroke="#fff" stroke-width="0.2">FLIR</text>
</g>
<clipPath id="clip9"><rect x="453.5" y="168.7" width="37.5" height="43.3"/></clipPath>
<linearGradient id="g10" gradientUnits="userSpaceOnUse" x1="0" y1="168.7" x2="0" y2="212.0"><stop offset="0.0" stop-color="#1e50d6"/><stop offset="0.0776" stop-color="#1636c8"/><stop offset="0.5543" stop-color="#1232c4"/><stop offset="0.6697" stop-color="#1a50d4"/><stop offset="0.7358" stop-color="#1e64dc"/><stop offset="0.7853" stop-color="#2478e2"/><stop offset="0.8349" stop-color="#206ce0"/><stop offset="1.0" stop-color="#1e66dc"/></linearGradient>
<g clip-path="url(#clip9)"><g filter="url(#soft)">
<rect x="451.5" y="166.7" width="41.5" height="47.3" fill="url(#g10)" />
<rect x="470.1" y="170.2" width="15.9" height="12.0" fill="#2050d8" filter="url(#soft2)"/>
<path d="M469.4,189.5 L475.8,180.9 L478.8,183.5 L476.3,187.5 L471.6,190.9 Z" fill="#0a1890"/>
<rect x="468.6" y="166.7" width="1.1" height="20.5" fill="#3c80e4"/>
<ellipse cx="469.1" cy="207.7" rx="1.9" ry="3.6" fill="#e0e030" />
<path d="M469.1,186.0 C473.6,186.7 473.6,191.2 471.3,193.2 L469.1,198.2 L466.9,193.2 C464.6,191.2 464.6,186.7 469.1,186.0 Z" fill="#f0d820"/>
<ellipse cx="469.1" cy="189.8" rx="2.2" ry="2.4" fill="#ff3020" />
<ellipse cx="469.1" cy="189.9" rx="1.2" ry="1.4" fill="#ffffff" />
<path d="M475.7,176.9 L481.7,176.9 L483.8,178.5 L483.8,182.2 L479.1,187.5 L483.8,187.5 L483.8,190.2 L475.3,190.2 L475.3,188.3 L480.9,182.5 L480.9,179.3 L475.7,179.3 Z" fill="#30c0a0" stroke="#28a0c8" stroke-width="0.8" stroke-linejoin="round"/>
<line x1="479.1" y1="166.7" x2="479.1" y2="177.4" stroke="#3070e0" stroke-width="0.9"/>
<rect x="485.3" y="166.7" width="8.0" height="24.0" fill="#0b1c96" />
</g>
<text transform="translate(486.6,171.3) rotate(90)" font-size="5.7" fill="#fff" stroke="#fff" stroke-width="0.25">46.6 °C</text>
<text transform="translate(486.7,198.3) rotate(90)" font-size="5.0" fill="#fff" stroke="#fff" stroke-width="0.2">FLIR</text>
</g>
<clipPath id="clip11"><rect x="491.0" y="168.7" width="37.8" height="43.3"/></clipPath>
<linearGradient id="g12" gradientUnits="userSpaceOnUse" x1="0" y1="168.7" x2="0" y2="212.0"><stop offset="0.0" stop-color="#1e50d6"/><stop offset="0.0776" stop-color="#1636c8"/><stop offset="0.5543" stop-color="#1232c4"/><stop offset="0.6697" stop-color="#1a50d4"/><stop offset="0.7358" stop-color="#1e64dc"/><stop offset="0.7853" stop-color="#2478e2"/><stop offset="0.8349" stop-color="#206ce0"/><stop offset="1.0" stop-color="#1e66dc"/></linearGradient>
<g clip-path="url(#clip11)"><g filter="url(#soft)">
<rect x="489.0" y="166.7" width="41.8" height="47.3" fill="url(#g12)" />
<rect x="507.6" y="170.2" width="16.2" height="12.0" fill="#2050d8" filter="url(#soft2)"/>
<path d="M506.9,189.5 L513.3,180.9 L516.3,183.5 L513.8,187.5 L509.1,190.9 Z" fill="#0a1890"/>
<rect x="506.1" y="166.7" width="1.1" height="20.5" fill="#3c80e4"/>
<ellipse cx="506.6" cy="207.7" rx="1.9" ry="3.6" fill="#e0e030" />
<path d="M506.6,186.0 C511.1,186.7 511.1,191.2 508.8,193.2 L506.6,198.2 L504.4,193.2 C502.1,191.2 502.1,186.7 506.6,186.0 Z" fill="#f0d820"/>
<ellipse cx="506.6" cy="189.8" rx="2.2" ry="2.4" fill="#ff3020" />
<ellipse cx="506.6" cy="189.9" rx="1.2" ry="1.4" fill="#ffffff" />
<path d="M513.2,176.9 L519.2,176.9 L521.3,178.5 L521.3,182.2 L516.6,187.5 L521.3,187.5 L521.3,190.2 L512.8,190.2 L512.8,188.3 L518.4,182.5 L518.4,179.3 L513.2,179.3 Z" fill="#30c0a0" stroke="#28a0c8" stroke-width="0.8" stroke-linejoin="round"/>
<line x1="516.6" y1="166.7" x2="516.6" y2="177.4" stroke="#3070e0" stroke-width="0.9"/>
<rect x="523.1" y="166.7" width="8.0" height="24.0" fill="#0b1c96" />
</g>
<text transform="translate(524.4,171.3) rotate(90)" font-size="5.7" fill="#fff" stroke="#fff" stroke-width="0.25">47.6 °C</text>
<text transform="translate(524.5,198.3) rotate(90)" font-size="5.0" fill="#fff" stroke="#fff" stroke-width="0.2">FLIR</text>
</g>
<clipPath id="clip13"><rect x="300.1" y="214.4" width="39.5" height="43.2"/></clipPath>
<linearGradient id="g14" gradientUnits="userSpaceOnUse" x1="0" y1="214.4" x2="0" y2="257.6"><stop offset="0.0" stop-color="#98c850"/><stop offset="0.044" stop-color="#40ac88"/><stop offset="0.3299" stop-color="#2aa890"/><stop offset="0.4398" stop-color="#60b870"/><stop offset="0.5556" stop-color="#c8c838"/><stop offset="0.6444" stop-color="#e8c030"/><stop offset="1.0" stop-color="#e8bc28"/></linearGradient>
<g clip-path="url(#clip13)"><g filter="url(#soft)">
<rect x="298.1" y="212.4" width="43.5" height="47.2" fill="url(#g14)" />
<rect x="321.6" y="215.9" width="11.0" height="19.0" fill="#b8d040" filter="url(#soft2)"/>
<rect x="316.6" y="214.4" width="5.5" height="20" fill="#3090e8"/>
<ellipse cx="316.6" cy="214.4" rx="1.6" ry="2.5" fill="#1850d0" transform="translate(2,14)"/>
<rect x="316.1" y="212.4" width="1.1" height="23.0" fill="#d8e060"/>
<path d="M324.0,220.0 L325.5,219.7 L328.8,219.7 L329.6,220.9 L329.8,224.2 L329.6,229.9 L331.3,230.8 L332.1,232.9 L331.8,234.7 L324.2,234.7 L323.8,232.9 L325.5,229.3 L326.3,227.2 L325.8,225.7 L324.1,224.5 L323.8,222.1 Z" fill="#f06020" stroke="#f08020" stroke-width="0.8" stroke-linejoin="round"/>
<line x1="327.5" y1="212.4" x2="327.5" y2="220.2" stroke="#40a0e0" stroke-width="0.9"/>
<rect x="333.9" y="212.4" width="8.0" height="24.0" fill="#0c1ca0" />
</g>
<text transform="translate(335.2,217.0) rotate(90)" font-size="5.7" fill="#fff" stroke="#fff" stroke-width="0.25">38.0 °C</text>
<text transform="translate(335.3,244.0) rotate(90)" font-size="5.0" fill="#fff" stroke="#fff" stroke-width="0.2">FLIR</text>
</g>
<clipPath id="clip15"><rect x="339.6" y="214.4" width="38.3" height="43.2"/></clipPath>
<linearGradient id="g16" gradientUnits="userSpaceOnUse" x1="0" y1="214.4" x2="0" y2="257.6"><stop offset="0.0" stop-color="#1e50d6"/><stop offset="0.0681" stop-color="#1636c8"/><stop offset="0.4861" stop-color="#1232c4"/><stop offset="0.6019" stop-color="#1e60dc"/><stop offset="0.7014" stop-color="#2680e8"/><stop offset="0.7611" stop-color="#34a0ee"/><stop offset="0.8208" stop-color="#2a86ea"/><stop offset="1.0" stop-color="#2478e6"/></linearGradient>
<g clip-path="url(#clip15)"><g filter="url(#soft)">
<rect x="337.6" y="212.4" width="42.3" height="47.2" fill="url(#g16)" />
<rect x="355.3" y="215.9" width="17.6" height="10.0" fill="#2462dc" filter="url(#soft2)"/>
<ellipse cx="356.3" cy="245.4" rx="15.0" ry="2.2" fill="#58c0c8" opacity="0.5"/>
<path d="M354.6,234.5 L362.4,225.0 L365.4,227.9 L362.9,232.3 L356.8,235.9 Z" fill="#0a1890"/>
<rect x="353.8" y="212.4" width="1.1" height="22.0" fill="#70c8f0"/>
<rect x="352.3" y="243.4" width="4.0" height="23.2" fill="#e0e040" opacity="0.8"/>
<ellipse cx="354.3" cy="252.4" rx="1.9" ry="4.0" fill="#f0e030" />
<ellipse cx="354.3" cy="240.4" rx="3.2" ry="6.8" fill="#f0e030" />
<ellipse cx="354.3" cy="237.0" rx="2.2" ry="2.4" fill="#f89030" />
<ellipse cx="354.3" cy="237.1" rx="1.2" ry="1.4" fill="#ffffff" />
<ellipse cx="354.3" cy="241.6" rx="1.4" ry="2.0" fill="#ff3020" />
<path d="M362.1,220.9 L363.5,220.6 L366.8,220.6 L367.6,221.8 L367.8,225.0 L367.6,230.5 L369.3,231.4 L370.1,233.4 L369.8,235.2 L362.3,235.2 L361.9,233.4 L363.5,229.9 L364.4,227.9 L363.9,226.4 L362.2,225.3 L361.9,222.9 Z" fill="#e8e030" stroke="#c8d840" stroke-width="0.8" stroke-linejoin="round"/>
<line x1="365.6" y1="212.4" x2="365.6" y2="221.1" stroke="#3070e0" stroke-width="0.9"/>
<rect x="372.2" y="212.4" width="8.0" height="24.0" fill="#0b1c96" />
</g>
<text transform="translate(373.5,217.0) rotate(90)" font-size="5.7" fill="#fff" stroke="#fff" stroke-width="0.25">35.3 °C</text>
<text transform="translate(373.6,244.0) rotate(90)" font-size="5.0" fill="#fff" stroke="#fff" stroke-width="0.2">FLIR</text>
</g>
<clipPath id="clip17"><rect x="377.9" y="214.4" width="37.7" height="43.2"/></clipPath>
<linearGradient id="g18" gradientUnits="userSpaceOnUse" x1="0" y1="214.4" x2="0" y2="257.6"><stop offset="0.0" stop-color="#1e50d6"/><stop offset="0.0713" stop-color="#1636c8"/><stop offset="0.5093" stop-color="#1232c4"/><stop offset="0.625" stop-color="#1c5cda"/><stop offset="0.6812" stop-color="#2a88e8"/><stop offset="0.7375" stop-color="#44b4e4"/><stop offset="0.7825" stop-color="#3aa6e8"/><stop offset="0.85" stop-color="#2a88ea"/><stop offset="1.0" stop-color="#2478e6"/></linearGradient>
<g clip-path="url(#clip17)"><g filter="url(#soft)">
<rect x="375.9" y="212.4" width="41.7" height="47.2" fill="url(#g18)" />
<rect x="393.9" y="215.9" width="16.7" height="12.0" fill="#2050d8" filter="url(#soft2)"/>
<ellipse cx="394.9" cy="244.9" rx="15.0" ry="2.2" fill="#48b4d4" opacity="0.4"/>
<path d="M393.2,233.6 L400.9,224.9 L403.9,227.6 L401.4,231.6 L395.4,235.0 Z" fill="#0a1890"/>
<rect x="392.3" y="212.4" width="1.1" height="20.6" fill="#58b0f0"/>
<rect x="390.9" y="242.0" width="4.0" height="24.6" fill="#e0e040" opacity="0.8"/>
<ellipse cx="392.9" cy="252.4" rx="1.9" ry="4.0" fill="#e8e020" />
<ellipse cx="392.9" cy="239.0" rx="3.2" ry="6.8" fill="#f0e020" />
<ellipse cx="392.9" cy="235.6" rx="2.2" ry="2.4" fill="#f89030" />
<ellipse cx="392.9" cy="235.7" rx="1.2" ry="1.4" fill="#ffffff" />
<ellipse cx="392.9" cy="240.2" rx="1.4" ry="2.0" fill="#ff3020" />
<path d="M400.6,221.2 L402.0,220.9 L405.3,220.9 L406.1,222.0 L406.3,224.9 L406.1,230.0 L407.8,230.8 L408.6,232.7 L408.3,234.3 L400.8,234.3 L400.4,232.7 L402.0,229.5 L402.9,227.6 L402.4,226.3 L400.7,225.2 L400.4,223.0 Z" fill="#a8e050" stroke="#70d070" stroke-width="0.8" stroke-linejoin="round"/>
<line x1="404.1" y1="212.4" x2="404.1" y2="221.4" stroke="#3070e0" stroke-width="0.9"/>
<rect x="409.9" y="212.4" width="8.0" height="24.0" fill="#0b1c96" />
</g>
<text transform="translate(411.2,217.0) rotate(90)" font-size="5.7" fill="#fff" stroke="#fff" stroke-width="0.25">36.5 °C</text>
<text transform="translate(411.3,244.0) rotate(90)" font-size="5.0" fill="#fff" stroke="#fff" stroke-width="0.2">FLIR</text>
</g>
<clipPath id="clip19"><rect x="415.6" y="214.4" width="37.9" height="43.2"/></clipPath>
<linearGradient id="g20" gradientUnits="userSpaceOnUse" x1="0" y1="214.4" x2="0" y2="257.6"><stop offset="0.0" stop-color="#1e50d6"/><stop offset="0.0713" stop-color="#1636c8"/><stop offset="0.5093" stop-color="#1232c4"/><stop offset="0.625" stop-color="#1c5cda"/><stop offset="0.6812" stop-color="#2a88e8"/><stop offset="0.7375" stop-color="#44b4e4"/><stop offset="0.7825" stop-color="#3aa6e8"/><stop offset="0.85" stop-color="#2a88ea"/><stop offset="1.0" stop-color="#2478e6"/></linearGradient>
<g clip-path="url(#clip19)"><g filter="url(#soft)">
<rect x="413.6" y="212.4" width="41.9" height="47.2" fill="url(#g20)" />
<rect x="431.6" y="215.9" width="16.9" height="12.0" fill="#2050d8" filter="url(#soft2)"/>
<ellipse cx="432.6" cy="244.9" rx="15.0" ry="2.2" fill="#48b4d4" opacity="0.4"/>
<path d="M430.9,233.6 L438.6,224.9 L441.6,227.6 L439.1,231.6 L433.1,235.0 Z" fill="#0a1890"/>
<rect x="430.1" y="212.4" width="1.1" height="20.6" fill="#58b0f0"/>
<rect x="428.6" y="242.0" width="4.0" height="24.6" fill="#e0e040" opacity="0.8"/>
<ellipse cx="430.6" cy="252.4" rx="1.9" ry="4.0" fill="#e8e020" />
<ellipse cx="430.6" cy="239.0" rx="3.2" ry="6.8" fill="#f0e020" />
<ellipse cx="430.6" cy="235.6" rx="2.2" ry="2.4" fill="#f89030" />
<ellipse cx="430.6" cy="235.7" rx="1.2" ry="1.4" fill="#ffffff" />
<ellipse cx="430.6" cy="240.2" rx="1.4" ry="2.0" fill="#ff3020" />
<path d="M438.3,221.2 L439.7,220.9 L443.0,220.9 L443.8,222.0 L444.0,224.9 L443.8,230.0 L445.5,230.8 L446.3,232.7 L446.0,234.3 L438.5,234.3 L438.1,232.7 L439.7,229.5 L440.6,227.6 L440.1,226.3 L438.4,225.2 L438.1,223.0 Z" fill="#a8e050" stroke="#70d070" stroke-width="0.8" stroke-linejoin="round"/>
<line x1="441.8" y1="212.4" x2="441.8" y2="221.4" stroke="#3070e0" stroke-width="0.9"/>
<rect x="447.8" y="212.4" width="8.0" height="24.0" fill="#0b1c96" />
</g>
<text transform="translate(449.1,217.0) rotate(90)" font-size="5.7" fill="#fff" stroke="#fff" stroke-width="0.25">37.3 °C</text>
<text transform="translate(449.2,244.0) rotate(90)" font-size="5.0" fill="#fff" stroke="#fff" stroke-width="0.2">FLIR</text>
</g>
<clipPath id="clip21"><rect x="453.5" y="214.4" width="37.5" height="43.2"/></clipPath>
<linearGradient id="g22" gradientUnits="userSpaceOnUse" x1="0" y1="214.4" x2="0" y2="257.6"><stop offset="0.0" stop-color="#1e50d6"/><stop offset="0.0713" stop-color="#1636c8"/><stop offset="0.5093" stop-color="#1232c4"/><stop offset="0.625" stop-color="#1c5cda"/><stop offset="0.6812" stop-color="#2a88e8"/><stop offset="0.7375" stop-color="#44b4e4"/><stop offset="0.7825" stop-color="#3aa6e8"/><stop offset="0.85" stop-color="#2a88ea"/><stop offset="1.0" stop-color="#2478e6"/></linearGradient>
<g clip-path="url(#clip21)"><g filter="url(#soft)">
<rect x="451.5" y="212.4" width="41.5" height="47.2" fill="url(#g22)" />
<rect x="469.5" y="215.9" width="16.5" height="12.0" fill="#2050d8" filter="url(#soft2)"/>
<ellipse cx="470.5" cy="244.9" rx="15.0" ry="2.2" fill="#48b4d4" opacity="0.4"/>
<path d="M468.8,233.6 L476.5,224.9 L479.5,227.6 L477.0,231.6 L471.0,235.0 Z" fill="#0a1890"/>
<rect x="467.9" y="212.4" width="1.1" height="20.6" fill="#58b0f0"/>
<rect x="466.5" y="242.0" width="4.0" height="24.6" fill="#e0e040" opacity="0.8"/>
<ellipse cx="468.5" cy="252.4" rx="1.9" ry="4.0" fill="#e8e020" />
<ellipse cx="468.5" cy="239.0" rx="3.2" ry="6.8" fill="#f0e020" />
<ellipse cx="468.5" cy="235.6" rx="2.2" ry="2.4" fill="#f89030" />
<ellipse cx="468.5" cy="235.7" rx="1.2" ry="1.4" fill="#ffffff" />
<ellipse cx="468.5" cy="240.2" rx="1.4" ry="2.0" fill="#ff3020" />
<path d="M476.2,221.2 L477.6,220.9 L480.9,220.9 L481.7,222.0 L481.9,224.9 L481.7,230.0 L483.4,230.8 L484.2,232.7 L483.9,234.3 L476.4,234.3 L476.0,232.7 L477.6,229.5 L478.5,227.6 L478.0,226.3 L476.3,225.2 L476.0,223.0 Z" fill="#a8e050" stroke="#70d070" stroke-width="0.8" stroke-linejoin="round"/>
<line x1="479.7" y1="212.4" x2="479.7" y2="221.4" stroke="#3070e0" stroke-width="0.9"/>
<rect x="485.3" y="212.4" width="8.0" height="24.0" fill="#0b1c96" />
</g>
<text transform="translate(486.6,217.0) rotate(90)" font-size="5.7" fill="#fff" stroke="#fff" stroke-width="0.25">37.8 °C</text>
<text transform="translate(486.7,244.0) rotate(90)" font-size="5.0" fill="#fff" stroke="#fff" stroke-width="0.2">FLIR</text>
</g>
<clipPath id="clip23"><rect x="491.0" y="214.4" width="37.8" height="43.2"/></clipPath>
<linearGradient id="g24" gradientUnits="userSpaceOnUse" x1="0" y1="214.4" x2="0" y2="257.6"><stop offset="0.0" stop-color="#1e50d6"/><stop offset="0.0713" stop-color="#1636c8"/><stop offset="0.5093" stop-color="#1232c4"/><stop offset="0.625" stop-color="#1c5cda"/><stop offset="0.6812" stop-color="#2a88e8"/><stop offset="0.7375" stop-color="#44b4e4"/><stop offset="0.7825" stop-color="#3aa6e8"/><stop offset="0.85" stop-color="#2a88ea"/><stop offset="1.0" stop-color="#2478e6"/></linearGradient>
<g clip-path="url(#clip23)"><g filter="url(#soft)">
<rect x="489.0" y="212.4" width="41.8" height="47.2" fill="url(#g24)" />
<rect x="507.0" y="215.9" width="16.8" height="12.0" fill="#2050d8" filter="url(#soft2)"/>
<ellipse cx="508.0" cy="244.9" rx="15.0" ry="2.2" fill="#48b4d4" opacity="0.4"/>
<path d="M506.3,233.6 L514.0,224.9 L517.0,227.6 L514.5,231.6 L508.5,235.0 Z" fill="#0a1890"/>
<rect x="505.4" y="212.4" width="1.1" height="20.6" fill="#58b0f0"/>
<rect x="504.0" y="242.0" width="4.0" height="24.6" fill="#e0e040" opacity="0.8"/>
<ellipse cx="506.0" cy="252.4" rx="1.9" ry="4.0" fill="#e8e020" />
<ellipse cx="506.0" cy="239.0" rx="3.2" ry="6.8" fill="#f0e020" />
<ellipse cx="506.0" cy="235.6" rx="2.2" ry="2.4" fill="#f89030" />
<ellipse cx="506.0" cy="235.7" rx="1.2" ry="1.4" fill="#ffffff" />
<ellipse cx="506.0" cy="240.2" rx="1.4" ry="2.0" fill="#ff3020" />
<path d="M513.7,221.2 L515.1,220.9 L518.4,220.9 L519.2,222.0 L519.4,224.9 L519.2,230.0 L520.9,230.8 L521.7,232.7 L521.4,234.3 L513.9,234.3 L513.5,232.7 L515.1,229.5 L516.0,227.6 L515.5,226.3 L513.8,225.2 L513.5,223.0 Z" fill="#a8e050" stroke="#70d070" stroke-width="0.8" stroke-linejoin="round"/>
<line x1="517.2" y1="212.4" x2="517.2" y2="221.4" stroke="#3070e0" stroke-width="0.9"/>
<rect x="523.1" y="212.4" width="8.0" height="24.0" fill="#0b1c96" />
</g>
<text transform="translate(524.4,217.0) rotate(90)" font-size="5.7" fill="#fff" stroke="#fff" stroke-width="0.25">38.7 °C</text>
<text transform="translate(524.5,244.0) rotate(90)" font-size="5.0" fill="#fff" stroke="#fff" stroke-width="0.2">FLIR</text>
</g>
<clipPath id="clip25"><rect x="300.1" y="259.9" width="39.5" height="44.6"/></clipPath>
<linearGradient id="g26" gradientUnits="userSpaceOnUse" x1="0" y1="259.9" x2="0" y2="304.5"><stop offset="0.0" stop-color="#1c4acc"/><stop offset="0.0757" stop-color="#1538c0"/><stop offset="0.5045" stop-color="#1838c0"/><stop offset="0.6166" stop-color="#1e58d0"/><stop offset="0.7316" stop-color="#2a90c8"/><stop offset="0.7891" stop-color="#38b0b0"/><stop offset="1.0" stop-color="#30a8c0"/></linearGradient>
<g clip-path="url(#clip25)"><g filter="url(#soft)">
<rect x="298.1" y="257.9" width="43.5" height="48.6" fill="url(#g26)" />
<rect x="317.0" y="261.4" width="16.0" height="22.0" fill="#2860e0" filter="url(#soft2)"/>
<ellipse cx="316.5" cy="259.9" rx="13.5" ry="3.2" fill="#a8d458" opacity="0.85" transform="translate(-1,33.5)"/>
<ellipse cx="316.5" cy="259.9" rx="2.5" ry="2.2" fill="#d0e040" transform="translate(10,35.5)"/>
<rect x="316.5" y="259.9" width="1.8" height="20" fill="#c8d840" transform="translate(-0.9,25)"/>
<path d="M316.5,259.9 m-0.3,22.5 l-1.5,4 l1.8,4 l1.8,-4 z" fill="#e0e040"/>
<ellipse cx="316.5" cy="259.9" rx="1.4" ry="1.3" fill="#0a1890" transform="translate(6.8,15.5)"/>
<rect x="315.9" y="257.9" width="1.1" height="25.0" fill="#c0e070"/>
<path d="M324.6,265.1 L331.4,265.1 L331.8,266.7 L331.8,277.8 L333.1,278.8 L333.1,281.4 L323.6,281.4 L323.8,279.1 L326.5,274.9 L326.1,271.3 L324.4,269.3 Z" fill="#f8c8c8" stroke="#ff4030" stroke-width="1.2" stroke-linejoin="round"/>
<line x1="327.9" y1="257.9" x2="327.9" y2="265.6" stroke="#3070e0" stroke-width="0.9"/>
<rect x="333.9" y="257.9" width="8.0" height="24.0" fill="#0b1c96" />
</g>
<text transform="translate(335.2,262.5) rotate(90)" font-size="5.7" fill="#fff" stroke="#fff" stroke-width="0.25">38.0 °C</text>
<text transform="translate(335.3,289.5) rotate(90)" font-size="5.0" fill="#fff" stroke="#fff" stroke-width="0.2">FLIR</text>
</g>
<clipPath id="clip27"><rect x="339.6" y="259.9" width="38.3" height="44.6"/></clipPath>
<linearGradient id="g28" gradientUnits="userSpaceOnUse" x1="0" y1="259.9" x2="0" y2="304.5"><stop offset="0.0" stop-color="#1e50d6"/><stop offset="0.0722" stop-color="#1636c8"/><stop offset="0.5157" stop-color="#1232c4"/><stop offset="0.6278" stop-color="#1e60dc"/><stop offset="0.7395" stop-color="#2a88e6"/><stop offset="0.8139" stop-color="#58b0c8"/><stop offset="0.8883" stop-color="#2c88ea"/><stop offset="1.0" stop-color="#2478e6"/></linearGradient>
<g clip-path="url(#clip27)"><g filter="url(#soft)">
<rect x="337.6" y="257.9" width="42.3" height="48.6" fill="url(#g28)" />
<rect x="355.7" y="261.4" width="17.2" height="12.0" fill="#2462dc" filter="url(#soft2)"/>
<ellipse cx="354.7" cy="259.9" rx="3" ry="2" fill="#b0d860" transform="translate(9,35)"/>
<ellipse cx="356.7" cy="293.4" rx="13.0" ry="2.6" fill="#a0d070" opacity="0.75"/>
<path d="M355.0,282.5 L361.7,271.2 L364.7,274.7 L362.2,279.9 L357.2,284.3 Z" fill="#0a1890"/>
<rect x="354.2" y="257.9" width="1.1" height="23.5" fill="#70c8f0"/>
<rect x="352.7" y="290.4" width="4.0" height="23.1" fill="#e0e040" opacity="0.8"/>
<ellipse cx="354.7" cy="286.1" rx="3.0" ry="5.5" fill="#f0e030" />
<ellipse cx="354.7" cy="284.0" rx="2.2" ry="2.4" fill="#ff4040" />
<ellipse cx="354.7" cy="284.1" rx="1.2" ry="1.4" fill="#ffffff" />
<ellipse cx="354.7" cy="288.6" rx="1.4" ry="2.0" fill="#ffb0b0" />
<path d="M361.5,266.3 L363.1,266.0 L367.0,266.0 L367.9,267.4 L368.1,271.2 L367.9,277.8 L369.8,278.9 L370.8,281.3 L370.4,283.4 L361.7,283.4 L361.2,281.3 L363.1,277.1 L364.1,274.7 L363.5,273.0 L361.6,271.6 L361.2,268.8 Z" fill="#f02840" stroke="#f8c020" stroke-width="1.2" stroke-linejoin="round"/>
<line x1="365.5" y1="257.9" x2="365.5" y2="266.5" stroke="#3070e0" stroke-width="0.9"/>
<rect x="372.2" y="257.9" width="8.0" height="24.0" fill="#0b1c96" />
</g>
<text transform="translate(373.5,262.5) rotate(90)" font-size="5.7" fill="#fff" stroke="#fff" stroke-width="0.25">38.4 °C</text>
<text transform="translate(373.6,289.5) rotate(90)" font-size="5.0" fill="#fff" stroke="#fff" stroke-width="0.2">FLIR</text>
</g>
<clipPath id="clip29"><rect x="377.9" y="259.9" width="37.7" height="44.6"/></clipPath>
<linearGradient id="g30" gradientUnits="userSpaceOnUse" x1="0" y1="259.9" x2="0" y2="304.5"><stop offset="0.0" stop-color="#1e50d6"/><stop offset="0.0722" stop-color="#1636c8"/><stop offset="0.5157" stop-color="#1232c4"/><stop offset="0.6278" stop-color="#1e60dc"/><stop offset="0.7395" stop-color="#2a88e6"/><stop offset="0.8139" stop-color="#48a8d8"/><stop offset="0.8883" stop-color="#2c88ea"/><stop offset="1.0" stop-color="#2478e6"/></linearGradient>
<g clip-path="url(#clip29)"><g filter="url(#soft)">
<rect x="375.9" y="257.9" width="41.7" height="48.6" fill="url(#g30)" />
<rect x="394.2" y="261.4" width="16.4" height="12.0" fill="#2462dc" filter="url(#soft2)"/>
<ellipse cx="395.2" cy="293.4" rx="13.0" ry="2.4" fill="#98cc78" opacity="0.7"/>
<path d="M393.5,281.1 L399.9,270.3 L402.9,273.6 L400.4,278.6 L395.7,282.7 Z" fill="#0a1890"/>
<rect x="392.6" y="257.9" width="1.1" height="23.0" fill="#70c8f0"/>
<rect x="391.2" y="289.9" width="4.0" height="23.6" fill="#e0e040" opacity="0.8"/>
<ellipse cx="393.2" cy="285.6" rx="3.0" ry="5.5" fill="#f0e030" />
<ellipse cx="393.2" cy="283.5" rx="2.2" ry="2.4" fill="#ff4040" />
<ellipse cx="393.2" cy="283.6" rx="1.2" ry="1.4" fill="#ffffff" />
<ellipse cx="393.2" cy="288.1" rx="1.4" ry="2.0" fill="#ffb0b0" />
<path d="M399.7,265.7 L401.2,265.4 L404.8,265.4 L405.7,266.7 L405.9,270.3 L405.7,276.6 L407.5,277.6 L408.4,279.9 L408.0,281.9 L399.8,281.9 L399.4,279.9 L401.2,276.0 L402.1,273.6 L401.6,272.0 L399.8,270.7 L399.4,268.0 Z" fill="#f88020" stroke="#f8c020" stroke-width="1.0" stroke-linejoin="round"/>
<line x1="403.4" y1="257.9" x2="403.4" y2="265.9" stroke="#3070e0" stroke-width="0.9"/>
<rect x="409.9" y="257.9" width="8.0" height="24.0" fill="#0b1c96" />
</g>
<text transform="translate(411.2,262.5) rotate(90)" font-size="5.7" fill="#fff" stroke="#fff" stroke-width="0.25">32.0 °C</text>
<text transform="translate(411.3,289.5) rotate(90)" font-size="5.0" fill="#fff" stroke="#fff" stroke-width="0.2">FLIR</text>
</g>
<clipPath id="clip31"><rect x="415.6" y="259.9" width="37.9" height="44.6"/></clipPath>
<linearGradient id="g32" gradientUnits="userSpaceOnUse" x1="0" y1="259.9" x2="0" y2="304.5"><stop offset="0.0" stop-color="#1e50d6"/><stop offset="0.0722" stop-color="#1636c8"/><stop offset="0.5157" stop-color="#1232c4"/><stop offset="0.6278" stop-color="#1c5cda"/><stop offset="0.6836" stop-color="#2a88e8"/><stop offset="0.7395" stop-color="#44b4e4"/><stop offset="0.7841" stop-color="#3aa6e8"/><stop offset="0.8511" stop-color="#2a88ea"/><stop offset="1.0" stop-color="#2478e6"/></linearGradient>
<g clip-path="url(#clip31)"><g filter="url(#soft)">
<rect x="413.6" y="257.9" width="41.9" height="48.6" fill="url(#g32)" />
<rect x="432.0" y="261.4" width="16.5" height="12.0" fill="#2050d8" filter="url(#soft2)"/>
<ellipse cx="433.0" cy="292.9" rx="14.0" ry="2.6" fill="#a0d070" opacity="0.7"/>
<path d="M431.3,281.5 L438.0,271.2 L441.0,274.3 L438.5,279.1 L433.5,283.1 Z" fill="#0a1890"/>
<rect x="430.4" y="257.9" width="1.1" height="22.6" fill="#58b0f0"/>
<rect x="429.0" y="289.5" width="4.0" height="24.0" fill="#e0e040" opacity="0.8"/>
<ellipse cx="431.0" cy="297.9" rx="1.9" ry="4.0" fill="#e8e020" />
<ellipse cx="431.0" cy="285.2" rx="3.0" ry="5.5" fill="#f0e020" />
<ellipse cx="431.0" cy="283.1" rx="2.2" ry="2.4" fill="#ff4040" />
<ellipse cx="431.0" cy="283.2" rx="1.2" ry="1.4" fill="#ffffff" />
<ellipse cx="431.0" cy="287.7" rx="1.4" ry="2.0" fill="#ffb0b0" />
<path d="M437.8,266.7 L439.2,266.4 L442.7,266.4 L443.6,267.7 L443.8,271.2 L443.6,277.2 L445.3,278.2 L446.2,280.4 L445.9,282.3 L437.9,282.3 L437.5,280.4 L439.2,276.6 L440.1,274.3 L439.6,272.8 L437.8,271.5 L437.5,268.9 Z" fill="#f8b820" stroke="#f8d030" stroke-width="0.8" stroke-linejoin="round"/>
<line x1="441.4" y1="257.9" x2="441.4" y2="266.9" stroke="#3070e0" stroke-width="0.9"/>
<rect x="447.8" y="257.9" width="8.0" height="24.0" fill="#0b1c96" />
</g>
<text transform="translate(449.1,262.5) rotate(90)" font-size="5.7" fill="#fff" stroke="#fff" stroke-width="0.25">33.0 °C</text>
<text transform="translate(449.2,289.5) rotate(90)" font-size="5.0" fill="#fff" stroke="#fff" stroke-width="0.2">FLIR</text>
</g>
<clipPath id="clip33"><rect x="453.5" y="259.9" width="37.5" height="44.6"/></clipPath>
<linearGradient id="g34" gradientUnits="userSpaceOnUse" x1="0" y1="259.9" x2="0" y2="304.5"><stop offset="0.0" stop-color="#1e50d6"/><stop offset="0.0722" stop-color="#1636c8"/><stop offset="0.5157" stop-color="#1232c4"/><stop offset="0.6278" stop-color="#1c5cda"/><stop offset="0.6836" stop-color="#2a88e8"/><stop offset="0.7395" stop-color="#44b4e4"/><stop offset="0.7841" stop-color="#3aa6e8"/><stop offset="0.8511" stop-color="#2a88ea"/><stop offset="1.0" stop-color="#2478e6"/></linearGradient>
<g clip-path="url(#clip33)"><g filter="url(#soft)">
<rect x="451.5" y="257.9" width="41.5" height="48.6" fill="url(#g34)" />
<rect x="469.9" y="261.4" width="16.1" height="12.0" fill="#2050d8" filter="url(#soft2)"/>
<ellipse cx="470.9" cy="292.9" rx="14.0" ry="2.6" fill="#a0d070" opacity="0.7"/>
<path d="M469.2,281.5 L475.9,271.2 L478.9,274.3 L476.4,279.1 L471.4,283.1 Z" fill="#0a1890"/>
<rect x="468.3" y="257.9" width="1.1" height="22.6" fill="#58b0f0"/>
<rect x="466.9" y="289.5" width="4.0" height="24.0" fill="#e0e040" opacity="0.8"/>
<ellipse cx="468.9" cy="297.9" rx="1.9" ry="4.0" fill="#e8e020" />
<ellipse cx="468.9" cy="285.2" rx="3.0" ry="5.5" fill="#f0e020" />
<ellipse cx="468.9" cy="283.1" rx="2.2" ry="2.4" fill="#ff4040" />
<ellipse cx="468.9" cy="283.2" rx="1.2" ry="1.4" fill="#ffffff" />
<ellipse cx="468.9" cy="287.7" rx="1.4" ry="2.0" fill="#ffb0b0" />
<path d="M475.7,266.7 L477.1,266.4 L480.6,266.4 L481.5,267.7 L481.7,271.2 L481.5,277.2 L483.2,278.2 L484.1,280.4 L483.8,282.3 L475.8,282.3 L475.4,280.4 L477.1,276.6 L478.0,274.3 L477.5,272.8 L475.7,271.5 L475.4,268.9 Z" fill="#f8b820" stroke="#f8d030" stroke-width="0.8" stroke-linejoin="round"/>
<line x1="479.3" y1="257.9" x2="479.3" y2="266.9" stroke="#3070e0" stroke-width="0.9"/>
<rect x="485.3" y="257.9" width="8.0" height="24.0" fill="#0b1c96" />
</g>
<text transform="translate(486.6,262.5) rotate(90)" font-size="5.7" fill="#fff" stroke="#fff" stroke-width="0.25">34.4 °C</text>
<text transform="translate(486.7,289.5) rotate(90)" font-size="5.0" fill="#fff" stroke="#fff" stroke-width="0.2">FLIR</text>
</g>
<clipPath id="clip35"><rect x="491.0" y="259.9" width="37.8" height="44.6"/></clipPath>
<linearGradient id="g36" gradientUnits="userSpaceOnUse" x1="0" y1="259.9" x2="0" y2="304.5"><stop offset="0.0" stop-color="#1e50d6"/><stop offset="0.0722" stop-color="#1636c8"/><stop offset="0.5157" stop-color="#1232c4"/><stop offset="0.6278" stop-color="#1c5cda"/><stop offset="0.6836" stop-color="#2a88e8"/><stop offset="0.7395" stop-color="#44b4e4"/><stop offset="0.7841" stop-color="#3aa6e8"/><stop offset="0.8511" stop-color="#2a88ea"/><stop offset="1.0" stop-color="#2478e6"/></linearGradient>
<g clip-path="url(#clip35)"><g filter="url(#soft)">
<rect x="489.0" y="257.9" width="41.8" height="48.6" fill="url(#g36)" />
<rect x="507.4" y="261.4" width="16.4" height="12.0" fill="#2050d8" filter="url(#soft2)"/>
<ellipse cx="508.4" cy="292.9" rx="14.0" ry="2.6" fill="#a0d070" opacity="0.7"/>
<path d="M506.7,281.5 L513.4,271.2 L516.4,274.3 L513.9,279.1 L508.9,283.1 Z" fill="#0a1890"/>
<rect x="505.8" y="257.9" width="1.1" height="22.6" fill="#58b0f0"/>
<rect x="504.4" y="289.5" width="4.0" height="24.0" fill="#e0e040" opacity="0.8"/>
<ellipse cx="506.4" cy="297.9" rx="1.9" ry="4.0" fill="#e8e020" />
<ellipse cx="506.4" cy="285.2" rx="3.0" ry="5.5" fill="#f0e020" />
<ellipse cx="506.4" cy="283.1" rx="2.2" ry="2.4" fill="#ff4040" />
<ellipse cx="506.4" cy="283.2" rx="1.2" ry="1.4" fill="#ffffff" />
<ellipse cx="506.4" cy="287.7" rx="1.4" ry="2.0" fill="#ffb0b0" />
<path d="M513.2,266.7 L514.6,266.4 L518.1,266.4 L519.0,267.7 L519.2,271.2 L519.0,277.2 L520.7,278.2 L521.6,280.4 L521.3,282.3 L513.3,282.3 L512.9,280.4 L514.6,276.6 L515.5,274.3 L515.0,272.8 L513.2,271.5 L512.9,268.9 Z" fill="#f8b820" stroke="#f8d030" stroke-width="0.8" stroke-linejoin="round"/>
<line x1="516.8" y1="257.9" x2="516.8" y2="266.9" stroke="#3070e0" stroke-width="0.9"/>
<rect x="523.1" y="257.9" width="8.0" height="24.0" fill="#0b1c96" />
</g>
<text transform="translate(524.4,262.5) rotate(90)" font-size="5.7" fill="#fff" stroke="#fff" stroke-width="0.25">35.7 °C</text>
<text transform="translate(524.5,289.5) rotate(90)" font-size="5.0" fill="#fff" stroke="#fff" stroke-width="0.2">FLIR</text>
</g>
</svg></body></html>
